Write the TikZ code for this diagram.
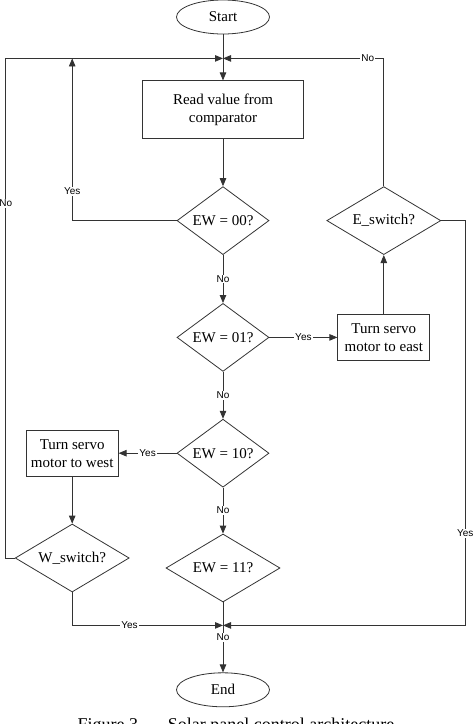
\documentclass[tikz,border=0pt]{standalone}
\usepackage{fontspec}
\setmainfont{Liberation Serif}
\setsansfont{Liberation Sans}
\usetikzlibrary{shapes.geometric,arrows.meta,positioning}

\begin{document}
\begin{tikzpicture}[
    x=1pt, y=-1pt,
    box/.style={rectangle, draw=black!80, line width=0.8pt, align=center, inner sep=2pt, minimum width=92pt, minimum height=46pt, font=\fontsize{15}{18}\selectfont},
    decision/.style={diamond, draw=black!80, line width=0.8pt, aspect=1.35, inner sep=1pt, minimum width=92pt, minimum height=68pt, font=\fontsize{15}{18}\selectfont},
    wide/.style={minimum width=114pt, aspect=1.68},
    terminal/.style={ellipse, draw=black!80, line width=0.8pt, minimum width=93pt, minimum height=34pt, inner sep=1pt, font=\fontsize{15}{18}\selectfont},
    arrow/.style={-{Triangle[length=8pt,width=6.5pt]}, line width=0.8pt, draw=black!80},
    annot/.style={font=\sffamily\fontsize{10}{12}\selectfont, fill=white, inner sep=1pt}
]
\useasboundingbox (0,0) rectangle (474,724);

\node[terminal] (start) at (223,17) {Start};

\node[box, minimum width=161pt, minimum height=58pt, below=46pt of start] (read) {Read value from\\comparator};

\node[decision, below=47pt of read] (ew00) {EW = 00?};

\node[decision, below=48pt of ew00] (ew01) {EW = 01?};

\node[box, right=68pt of ew01] (east) {Turn servo\\motor to east};

\node[decision, wide, above=59pt of east] (eswitch) {E\_switch?};

\node[decision, below=47pt of ew01] (ew10) {EW = 10?};

\node[box, left=58pt of ew10] (west) {Turn servo\\motor to west};

\node[decision, wide, below=47pt of west] (wswitch) {W\_switch?};

\node[decision, wide, below=46pt of ew10] (ew11) {EW = 11?};

\node[terminal, below=70pt of ew11] (end) {End};

\coordinate[below=24pt of start.south] (jtop);
\coordinate[below=23pt of ew11.south] (jbot);
\coordinate[left=9pt of wswitch.west] (wleft);
\coordinate[right=24pt of eswitch.east] (eright);

\draw[arrow] (start) -- (read);
\draw[arrow] (read) -- (ew00);
\draw[arrow] (ew00.west) -| node[annot, pos=0.59] {Yes} (west |- jtop);
\draw[arrow] (ew00) -- node[annot] {No} (ew01);
\draw[arrow] (ew01) -- node[annot] {Yes} (east);
\draw[arrow] (east) -- (eswitch);
\draw[arrow] (eswitch.north) |- node[annot, pos=0.55] {No} (jtop);
\draw[arrow] (ew01) -- node[annot] {No} (ew10);
\draw[arrow] (ew10) -- node[annot] {Yes} (west);
\draw[arrow] (west) -- (wswitch);
\draw[arrow] (wswitch.west) -- (wleft) |- node[annot, pos=0.355] {No} (jtop);
\draw[arrow] (ew10) -- node[annot] {No} (ew11);
\draw[arrow] (wswitch.south) |- node[annot, pos=0.69] {Yes} (jbot);
\draw[arrow] (eswitch.east) -- (eright) |- node[annot, pos=0.386] {Yes} (jbot);
\draw[arrow] (ew11) -- node[annot] {No} (end);

\node[font=\fontsize{18}{21}\selectfont, anchor=base] (caption) at (236,730) {Figure 3.\hspace{1.4em}Solar panel control architecture};

\end{tikzpicture}
\end{document}
